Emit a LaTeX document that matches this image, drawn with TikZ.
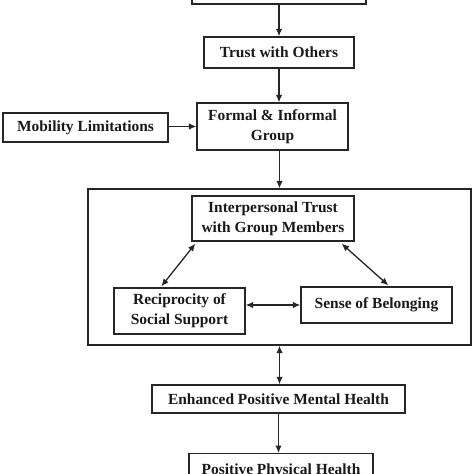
\documentclass[tikz,border=0pt]{standalone}
\usepackage{fontspec}
\setmainfont{Liberation Serif}
\usetikzlibrary{arrows.meta}
\begin{document}
\begin{tikzpicture}[x=1bp,y=1bp,
  box/.style={draw=black!85,line width=1.3bp,rectangle,inner sep=0pt,align=center,
    font=\fontsize{15.5}{20}\selectfont\bfseries,text=black!90},
  arr/.style={line width=1.3bp,draw=black!85,-{Latex[length=7.5bp,width=6.5bp]}},
  darr/.style={line width=1.3bp,draw=black!85,{Latex[length=7.5bp,width=6.5bp]}-{Latex[length=7.5bp,width=6.5bp]}}]
\useasboundingbox (0,0) rectangle (474,-474);
\clip (0,0) rectangle (474,-474);
\fill[white] (0,0) rectangle (474,-474);
\node[box,minimum width=174bp,minimum height=40bp] (top) at (279,16) {};
\node[box,minimum width=150bp,minimum height=31bp] (trust) at (279,-52.5) {Trust with Others};
\node[box,minimum width=151bp,minimum height=47bp] (formal) at (272.5,-126.5) {Formal \& Informal\\Group};
\node[box,minimum width=165bp,minimum height=29bp] (mob) at (85.5,-127.5) {Mobility Limitations};
\node[box,minimum width=383bp,minimum height=156bp] (frame) at (279.5,-267) {};
\node[box,minimum width=162bp,minimum height=45bp] (inter) at (273,-218.5) {Interpersonal Trust\\with Group Members};
\node[box,minimum width=131bp,minimum height=46bp] (recip) at (179.5,-311) {Reciprocity of\\Social Support};
\node[box,minimum width=151bp,minimum height=36bp] (sense) at (376.5,-305) {Sense of Belonging};
\node[box,minimum width=253bp,minimum height=28bp] (enh) at (278.5,-399) {Enhanced Positive Mental Health};
\node[box,minimum width=184bp,minimum height=34bp,anchor=north] (phys) at (281,-453) {\raisebox{2bp}{Positive Physical Health}};
\draw[arr] (top.south) -- (trust.north);
\draw[arr] (trust.south) -- (trust.south |- formal.north);
\draw[arr] (mob.east |- formal.west) -- (formal.west);
\draw[arr] (frame.north |- formal.south) -- (frame.north);
\draw[darr] ([xshift=4bp,yshift=-2bp]inter.south west) -- ([xshift=48bp,yshift=1bp]recip.north west);
\draw[darr] ([xshift=-13bp,yshift=-2bp]inter.south east) -- ([xshift=88bp,yshift=1bp]sense.north west);
\draw[darr] (sense.west -| recip.east) -- (sense.west);
\draw[darr] (frame.south) -- (frame.south |- enh.north);
\draw[arr] (enh.south) -- (enh.south |- phys.north);
\end{tikzpicture}
\end{document}
